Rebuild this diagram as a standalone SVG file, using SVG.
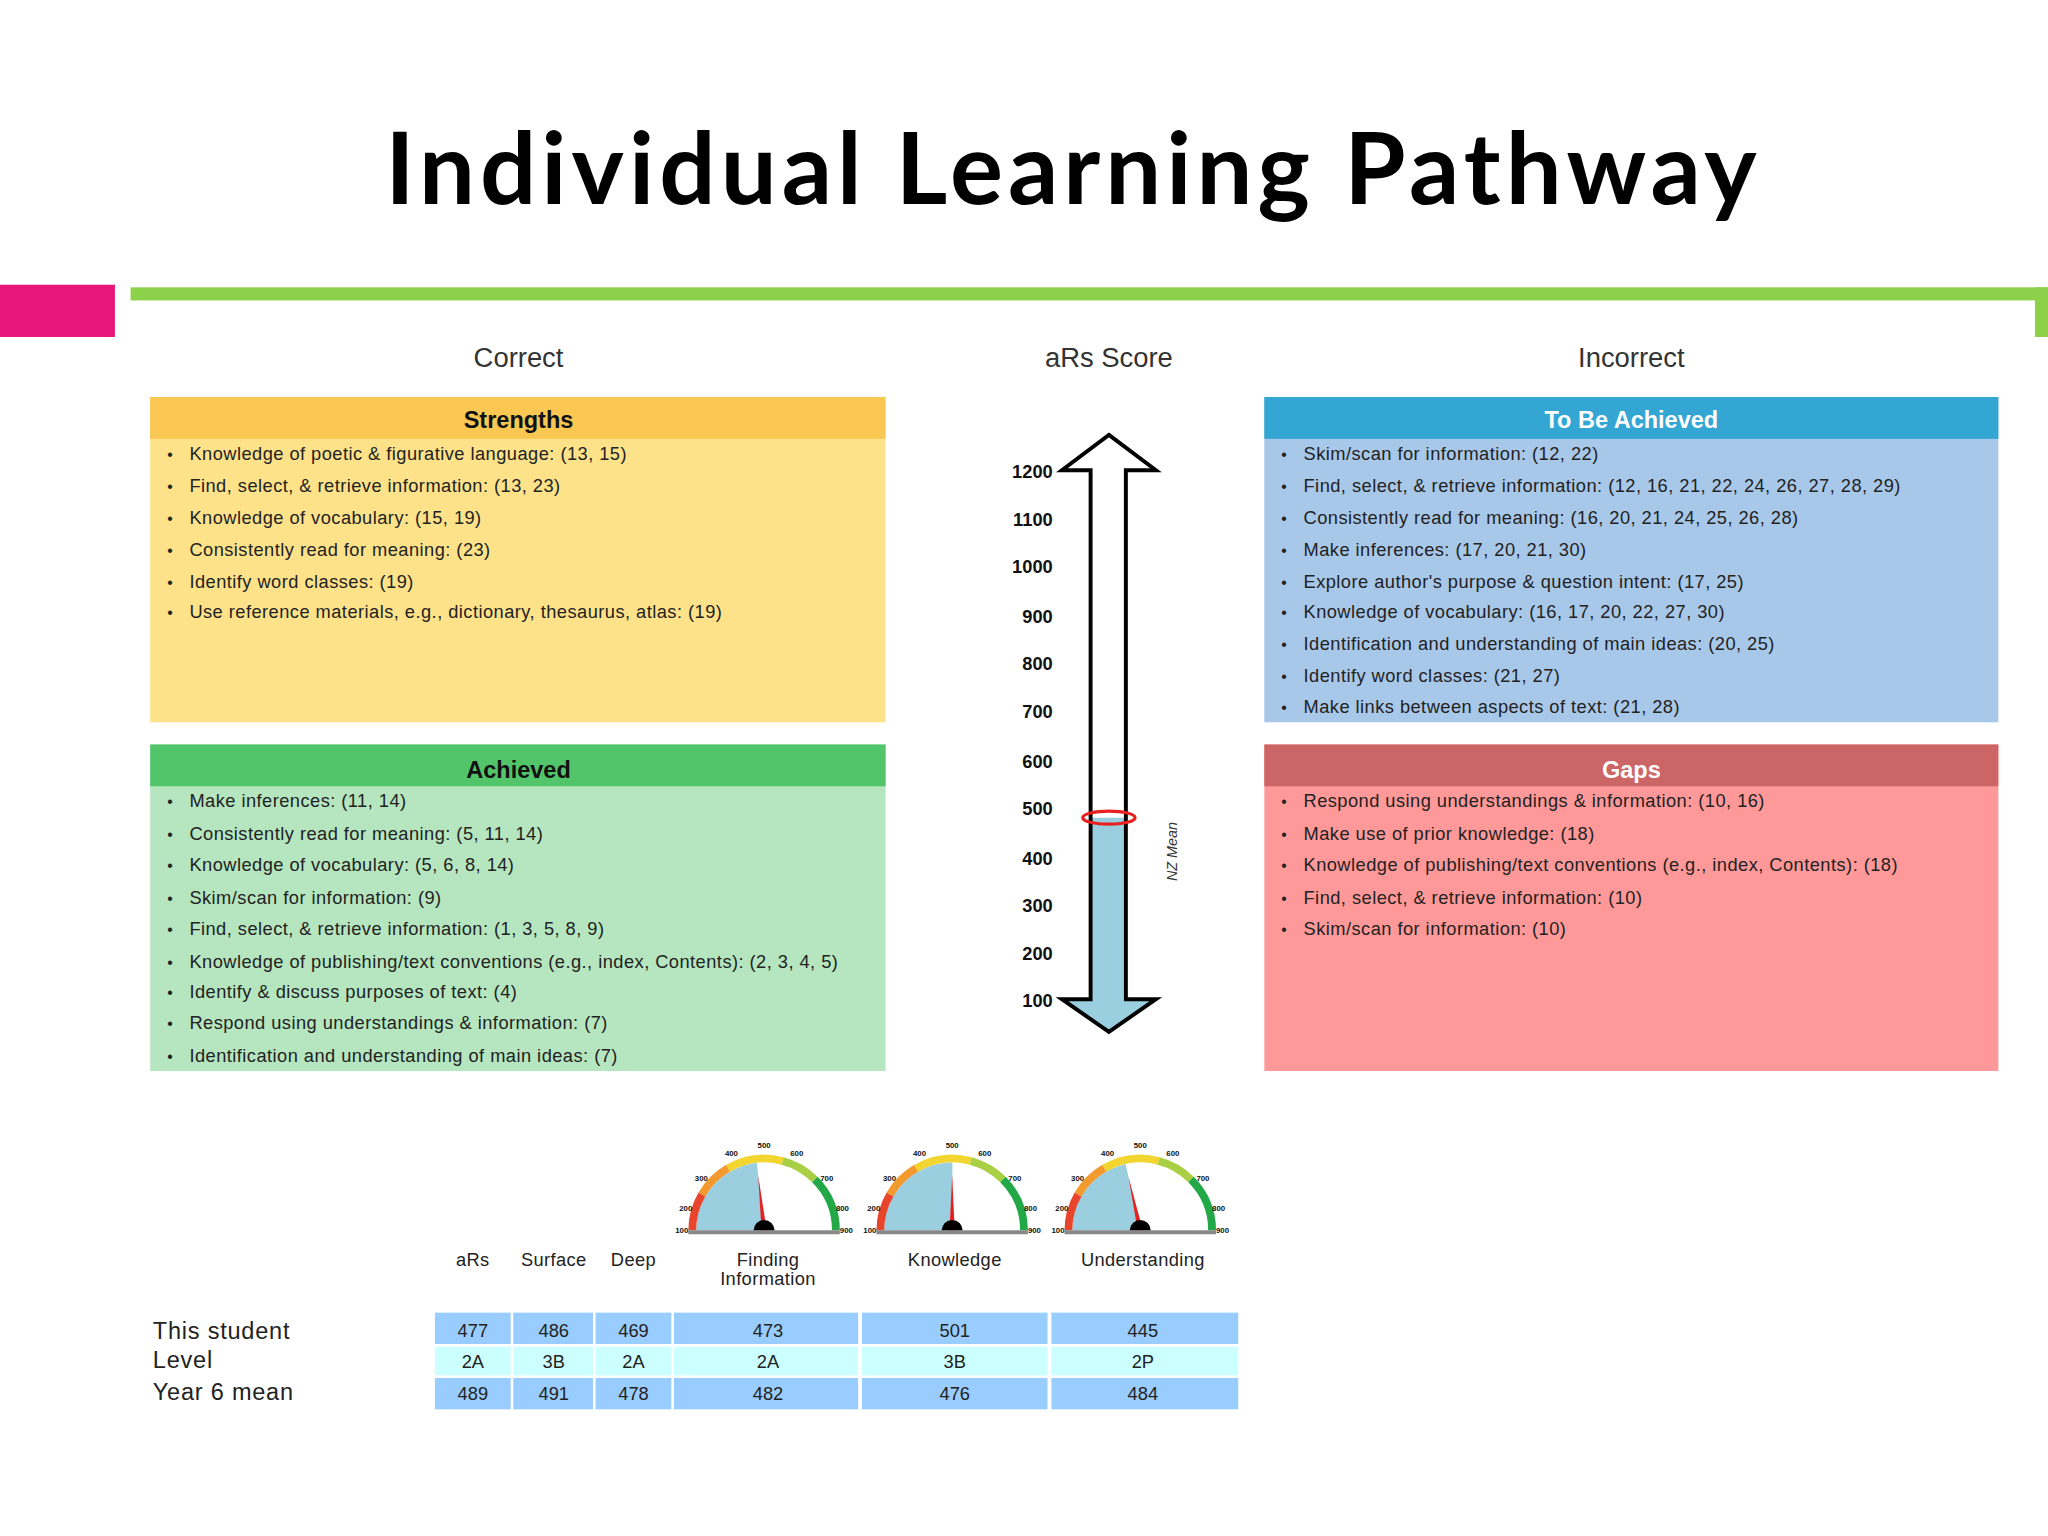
<svg xmlns="http://www.w3.org/2000/svg" xmlns:xlink="http://www.w3.org/1999/xlink" width="2048" height="1536" viewBox="0 0 2048 1536">
<style>
text{font-family:"Liberation Sans",Arial,sans-serif;fill:#111}
.hd{font-size:21px;text-anchor:middle;fill:#333}
.bt{font-size:18px;font-weight:bold;text-anchor:middle}
.it{font-size:14px;fill:#222;letter-spacing:0.35px}
.bu{font-size:12px;fill:#222}
.sc{font-size:14px;font-weight:bold;text-anchor:end}
.tk{font-size:6px;font-weight:bold;text-anchor:middle}
.th{font-size:14px;text-anchor:middle;fill:#222;letter-spacing:0.3px}
.td{font-size:14px;text-anchor:middle;fill:#222}
.rl{font-size:18px;fill:#222;letter-spacing:0.6px}
</style>
<defs>
<g id="gauge">
<path d="M-55,0 A55,55 0 0 1 -47.6,-27.5" fill="none" stroke="#e8452c" stroke-width="6"/>
<path d="M-47.6,-27.5 A55,55 0 0 1 -27.5,-47.6" fill="none" stroke="#f39a2e" stroke-width="6"/>
<path d="M-27.5,-47.6 A55,55 0 0 1 14.2,-53.1" fill="none" stroke="#f2d52e" stroke-width="6"/>
<path d="M14.2,-53.1 A55,55 0 0 1 38.9,-38.9" fill="none" stroke="#a9d044" stroke-width="6"/>
<path d="M38.9,-38.9 A55,55 0 0 1 55,0" fill="none" stroke="#22a846" stroke-width="6"/>
<line x1="-58" y1="1.5" x2="58" y2="1.5" stroke="#888" stroke-width="3"/>
<text class="tk" x="-63" y="2">100</text>
<text class="tk" x="-60" y="-15">200</text>
<text class="tk" x="-48" y="-38">300</text>
<text class="tk" x="-25" y="-57">400</text>
<text class="tk" x="0" y="-63">500</text>
<text class="tk" x="25" y="-57">600</text>
<text class="tk" x="48" y="-38">700</text>
<text class="tk" x="60" y="-15">800</text>
<text class="tk" x="63" y="2">900</text>
</g>
</defs>
<rect width="2048" height="1536" fill="#fff"/>
<g transform="scale(1.30612)">
<g id="title"><text x="820" y="156" textLength="1050" lengthAdjust="spacing" style="font-family:Lato,'Open Sans',sans-serif;font-size:76px;font-weight:bold;text-anchor:middle;fill:#000">Individual Learning Pathway</text></g>
<g id="decor">
<rect x="0" y="218" width="88" height="40" fill="#e8177a"/>
<rect x="100" y="220" width="1468" height="10" fill="#8dd04a"/>
<rect x="1558" y="220" width="10" height="38" fill="#8dd04a"/>
</g>
<text class="hd" x="397" y="281">Correct</text>
<text class="hd" x="849" y="281">aRs Score</text>
<text class="hd" x="1249" y="281">Incorrect</text>

<g id="strengths">
<rect x="115" y="304" width="563" height="249" fill="#fde28a"/>
<rect x="115" y="304" width="563" height="32" fill="#f9c752"/>
<text class="bt" x="397" y="328">Strengths</text>
<g class="bu"><text class="bu" x="128" y="352">•</text><text class="bu" x="128" y="377">•</text><text class="bu" x="128" y="401">•</text><text class="bu" x="128" y="426">•</text><text class="bu" x="128" y="450">•</text><text class="bu" x="128" y="473">•</text></g>
<text class="it" x="145" y="352">Knowledge of poetic &amp; figurative language: (13, 15)</text>
<text class="it" x="145" y="377">Find, select, &amp; retrieve information: (13, 23)</text>
<text class="it" x="145" y="401">Knowledge of vocabulary: (15, 19)</text>
<text class="it" x="145" y="426">Consistently read for meaning: (23)</text>
<text class="it" x="145" y="450">Identify word classes: (19)</text>
<text class="it" x="145" y="473">Use reference materials, e.g., dictionary, thesaurus, atlas: (19)</text>
</g>

<g id="achieved">
<rect x="115" y="570" width="563" height="250" fill="#b5e6bf"/>
<rect x="115" y="570" width="563" height="32" fill="#52c46a"/>
<text class="bt" x="397" y="596">Achieved</text>
<g><text class="bu" x="128" y="618">•</text><text class="bu" x="128" y="643">•</text><text class="bu" x="128" y="667">•</text><text class="bu" x="128" y="692">•</text><text class="bu" x="128" y="716">•</text><text class="bu" x="128" y="741">•</text><text class="bu" x="128" y="764">•</text><text class="bu" x="128" y="788">•</text><text class="bu" x="128" y="813">•</text></g>
<text class="it" x="145" y="618">Make inferences: (11, 14)</text>
<text class="it" x="145" y="643">Consistently read for meaning: (5, 11, 14)</text>
<text class="it" x="145" y="667">Knowledge of vocabulary: (5, 6, 8, 14)</text>
<text class="it" x="145" y="692">Skim/scan for information: (9)</text>
<text class="it" x="145" y="716">Find, select, &amp; retrieve information: (1, 3, 5, 8, 9)</text>
<text class="it" x="145" y="741">Knowledge of publishing/text conventions (e.g., index, Contents): (2, 3, 4, 5)</text>
<text class="it" x="145" y="764">Identify &amp; discuss purposes of text: (4)</text>
<text class="it" x="145" y="788">Respond using understandings &amp; information: (7)</text>
<text class="it" x="145" y="813">Identification and understanding of main ideas: (7)</text>
</g>

<g id="tobeachieved">
<rect x="968" y="304" width="562" height="249" fill="#a8c8ea"/>
<rect x="968" y="304" width="562" height="32" fill="#33a6d4"/>
<text class="bt" x="1249" y="328" style="fill:#fff">To Be Achieved</text>
<g><text class="bu" x="981" y="352">•</text><text class="bu" x="981" y="377">•</text><text class="bu" x="981" y="401">•</text><text class="bu" x="981" y="426">•</text><text class="bu" x="981" y="450">•</text><text class="bu" x="981" y="473">•</text><text class="bu" x="981" y="498">•</text><text class="bu" x="981" y="522">•</text><text class="bu" x="981" y="546">•</text></g>
<text class="it" x="998" y="352">Skim/scan for information: (12, 22)</text>
<text class="it" x="998" y="377">Find, select, &amp; retrieve information: (12, 16, 21, 22, 24, 26, 27, 28, 29)</text>
<text class="it" x="998" y="401">Consistently read for meaning: (16, 20, 21, 24, 25, 26, 28)</text>
<text class="it" x="998" y="426">Make inferences: (17, 20, 21, 30)</text>
<text class="it" x="998" y="450">Explore author's purpose &amp; question intent: (17, 25)</text>
<text class="it" x="998" y="473">Knowledge of vocabulary: (16, 17, 20, 22, 27, 30)</text>
<text class="it" x="998" y="498">Identification and understanding of main ideas: (20, 25)</text>
<text class="it" x="998" y="522">Identify word classes: (21, 27)</text>
<text class="it" x="998" y="546">Make links between aspects of text: (21, 28)</text>
</g>

<g id="gaps">
<rect x="968" y="570" width="562" height="250" fill="#ff9999"/>
<rect x="968" y="570" width="562" height="32" fill="#cc6666"/>
<text class="bt" x="1249" y="596" style="fill:#fff">Gaps</text>
<g><text class="bu" x="981" y="618">•</text><text class="bu" x="981" y="643">•</text><text class="bu" x="981" y="667">•</text><text class="bu" x="981" y="692">•</text><text class="bu" x="981" y="716">•</text></g>
<text class="it" x="998" y="618">Respond using understandings &amp; information: (10, 16)</text>
<text class="it" x="998" y="643">Make use of prior knowledge: (18)</text>
<text class="it" x="998" y="667">Knowledge of publishing/text conventions (e.g., index, Contents): (18)</text>
<text class="it" x="998" y="692">Find, select, &amp; retrieve information: (10)</text>
<text class="it" x="998" y="716">Skim/scan for information: (10)</text>
</g>

<g id="scale">
<path d="M835,626 L862,626 L862,765 L885,765 L849,790 L813,765 L835,765 Z" fill="#99cfdf"/>
<path d="M849,333 L885,360 L862,360 L862,765 L885,765 L849,790 L813,765 L835,765 L835,360 L813,360 Z" fill="none" stroke="#000" stroke-width="3" stroke-linejoin="miter"/>
<ellipse cx="849" cy="626" rx="20" ry="5" fill="none" stroke="#e82020" stroke-width="2.5"/>
<text class="sc" x="806" y="366">1200</text>
<text class="sc" x="806" y="403">1100</text>
<text class="sc" x="806" y="439">1000</text>
<text class="sc" x="806" y="477">900</text>
<text class="sc" x="806" y="513">800</text>
<text class="sc" x="806" y="550">700</text>
<text class="sc" x="806" y="588">600</text>
<text class="sc" x="806" y="624">500</text>
<text class="sc" x="806" y="662">400</text>
<text class="sc" x="806" y="698">300</text>
<text class="sc" x="806" y="735">200</text>
<text class="sc" x="806" y="771">100</text>
<text x="901" y="652" transform="rotate(-90 901 652)" style="font-size:11px;font-style:italic;text-anchor:middle;fill:#333">NZ Mean</text>
</g>

<g id="gauge-finding" transform="translate(585,942)">
<path d="M0,0 L-52,0 A52,52 0 0 1 -5.5,-51.7 Z" fill="#9bcfdf"/>
<use xlink:href="#gauge"/>
<path d="M-2,0 L-4.5,-42 L2,0 Z" fill="#e82020"/>
<path d="M-8,0 A8,8 0 0 1 8,0 Z" fill="#000"/>
</g>
<g id="gauge-knowledge" transform="translate(729,942)">
<path d="M0,0 L-52,0 A52,52 0 0 1 0.2,-52 Z" fill="#9bcfdf"/>
<use xlink:href="#gauge"/>
<path d="M-2,0 L0,-42 L2,0 Z" fill="#e82020"/>
<path d="M-8,0 A8,8 0 0 1 8,0 Z" fill="#000"/>
</g>
<g id="gauge-understanding" transform="translate(873,942)">
<path d="M0,0 L-52,0 A52,52 0 0 1 -11.2,-50.8 Z" fill="#9bcfdf"/>
<use xlink:href="#gauge"/>
<path d="M-2,0 L-9,-41 L2,0 Z" fill="#e82020"/>
<path d="M-8,0 A8,8 0 0 1 8,0 Z" fill="#000"/>
</g>

<g id="table">
<text class="th" x="362" y="969">aRs</text>
<text class="th" x="424" y="969">Surface</text>
<text class="th" x="485" y="969">Deep</text>
<text class="th" x="588" y="969">Finding</text>
<text class="th" x="588" y="984">Information</text>
<text class="th" x="731" y="969">Knowledge</text>
<text class="th" x="875" y="969">Understanding</text>
<g fill="#99ccff">
<rect x="333" y="1005" width="58" height="24"/><rect x="393" y="1005" width="61" height="24"/><rect x="456" y="1005" width="58" height="24"/><rect x="516" y="1005" width="141" height="24"/><rect x="660" y="1005" width="142" height="24"/><rect x="805" y="1005" width="143" height="24"/>
<rect x="333" y="1055" width="58" height="24"/><rect x="393" y="1055" width="61" height="24"/><rect x="456" y="1055" width="58" height="24"/><rect x="516" y="1055" width="141" height="24"/><rect x="660" y="1055" width="142" height="24"/><rect x="805" y="1055" width="143" height="24"/>
</g>
<g fill="#ccffff">
<rect x="333" y="1031" width="58" height="22"/><rect x="393" y="1031" width="61" height="22"/><rect x="456" y="1031" width="58" height="22"/><rect x="516" y="1031" width="141" height="22"/><rect x="660" y="1031" width="142" height="22"/><rect x="805" y="1031" width="143" height="22"/>
</g>
<text class="rl" x="117" y="1025">This student</text>
<text class="rl" x="117" y="1047">Level</text>
<text class="rl" x="117" y="1072">Year 6 mean</text>
<text class="td" x="362" y="1024">477</text><text class="td" x="424" y="1024">486</text><text class="td" x="485" y="1024">469</text><text class="td" x="588" y="1024">473</text><text class="td" x="731" y="1024">501</text><text class="td" x="875" y="1024">445</text>
<text class="td" x="362" y="1047">2A</text><text class="td" x="424" y="1047">3B</text><text class="td" x="485" y="1047">2A</text><text class="td" x="588" y="1047">2A</text><text class="td" x="731" y="1047">3B</text><text class="td" x="875" y="1047">2P</text>
<text class="td" x="362" y="1072">489</text><text class="td" x="424" y="1072">491</text><text class="td" x="485" y="1072">478</text><text class="td" x="588" y="1072">482</text><text class="td" x="731" y="1072">476</text><text class="td" x="875" y="1072">484</text>
</g>
</g>
</svg>
